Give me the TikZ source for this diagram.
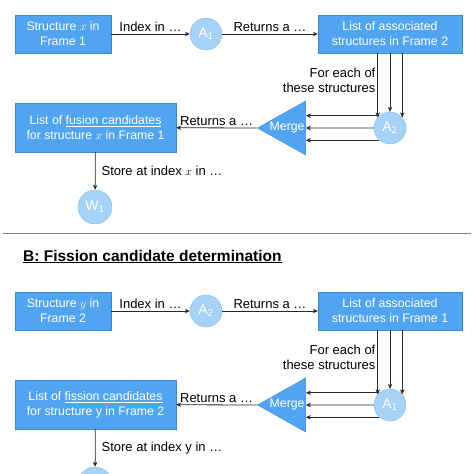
\documentclass[tikz,border=0pt]{standalone}
\usepackage{fontspec}
\setmainfont{Liberation Sans}
\usetikzlibrary{shapes.geometric,arrows.meta}
\definecolor{boxblue}{RGB}{80,164,240}
\definecolor{boxedge}{RGB}{62,132,212}
\definecolor{circblue}{RGB}{166,210,246}
\definecolor{circedge}{RGB}{128,188,238}
\definecolor{linegray}{RGB}{40,40,40}

\begin{document}
\begin{tikzpicture}[x=1pt,y=-1pt]
    \tikzstyle{box}=[rectangle,draw=boxedge,fill=boxblue,text=white,align=center,inner sep=0pt,font=\fontsize{12.3}{15}\selectfont]
    \tikzstyle{arraynode}=[circle,draw=circedge,fill=circblue,text=white,minimum size=32pt,inner sep=0pt,font=\fontsize{14}{14}\selectfont]
    \tikzstyle{merger}=[isosceles triangle,shape border rotate=180,isosceles triangle stretches,minimum width=54pt,minimum height=48pt,fill=boxblue,draw=boxedge,text=white,inner sep=0pt,font=\fontsize{12.3}{15}\selectfont]
    \tikzstyle{lbl}=[text=black,inner sep=2pt,font=\fontsize{13}{15.5}\selectfont]
    \tikzstyle{conn}=[-{Stealth[length=5pt,width=4.5pt]},draw=linegray,line width=0.8pt]
    \useasboundingbox (0,0) rectangle (474,474);
    % A: fusion
    \node[box,minimum width=96pt,minimum height=38pt] (s1) at (63,34) {Structure $x$ in\\Frame 1};
    \node[arraynode] (a1) at (206,34) {A\textsubscript{1}};
    \node[box,minimum width=144pt,minimum height=38pt] (as2) at (390,34) {List of associated\\structures in Frame 2};
    \node[arraynode] (a2) at (390,128) {A\textsubscript{2}};
    \node[merger,anchor=apex] (m1) at (257,128) {Merge};
    \node[box,minimum width=161pt,minimum height=49pt] (fu) at (95.5,127.5) {List of \underline{fusion candidates}\\for structure $x$ in Frame 1};
    \node[arraynode,minimum size=34pt] (w1) at (95,207) {W\textsubscript{1}};
    \draw[conn] (s1) -- node[lbl,above]{Index in …} (a1);
    \draw[conn] (a1) -- node[lbl,above]{Returns a …} (as2);
    \draw[conn] (a2.139 |- as2.south) -- node[lbl,left,align=right,pos=0.42]{For each of\\these structures} (a2.139);
    \draw[conn] (as2.south) -- (a2.north);
    \draw[conn] (a2.41 |- as2.south) -- (a2.41);
    \draw[conn] (a2.131) -- (a2.131 -| m1.east);
    \draw[conn] (a2) -- (m1);
    \draw[conn] (a2.229) -- (a2.229 -| m1.east);
    \draw[conn] (m1.apex) -- node[lbl,above]{Returns a …} (fu);
    \draw[conn] (fu) -- node[lbl,right,xshift=4pt]{Store at index $x$ in …} (w1);
    \draw[gray,line width=0.8pt] (3,233) -- (471,233);
    % B: fission
    \node[anchor=base west,inner sep=0pt,font=\fontsize{15.5}{18}\selectfont\bfseries] (title) at (23,261) {\underline{B: Fission candidate determination}};
    \node[box,minimum width=96pt,minimum height=38pt] (s2) at (63,311) {Structure $y$ in\\Frame 2};
    \node[arraynode] (b2) at (206,311) {A\textsubscript{2}};
    \node[box,minimum width=144pt,minimum height=38pt] (as1) at (390,311) {List of associated\\structures in Frame 1};
    \node[arraynode] (b1) at (390,405) {A\textsubscript{1}};
    \node[merger,anchor=apex] (m2) at (257,405) {Merge};
    \node[box,minimum width=161pt,minimum height=49pt] (fi) at (95.5,404.5) {List of \underline{fission candidates}\\for structure y in Frame 2};
    \node[arraynode,minimum size=34pt] (w2) at (95,484) {};
    \draw[conn] (s2) -- node[lbl,above]{Index in …} (b2);
    \draw[conn] (b2) -- node[lbl,above]{Returns a …} (as1);
    \draw[conn] (b1.139 |- as1.south) -- node[lbl,left,align=right,pos=0.42]{For each of\\these structures} (b1.139);
    \draw[conn] (as1.south) -- (b1.north);
    \draw[conn] (b1.41 |- as1.south) -- (b1.41);
    \draw[conn] (b1.131) -- (b1.131 -| m2.east);
    \draw[conn] (b1) -- (m2);
    \draw[conn] (b1.229) -- (b1.229 -| m2.east);
    \draw[conn] (m2.apex) -- node[lbl,above]{Returns a …} (fi);
    \draw[conn] (fi) -- node[lbl,right,xshift=4pt]{Store at index y in …} (w2);
\end{tikzpicture}
\end{document}
